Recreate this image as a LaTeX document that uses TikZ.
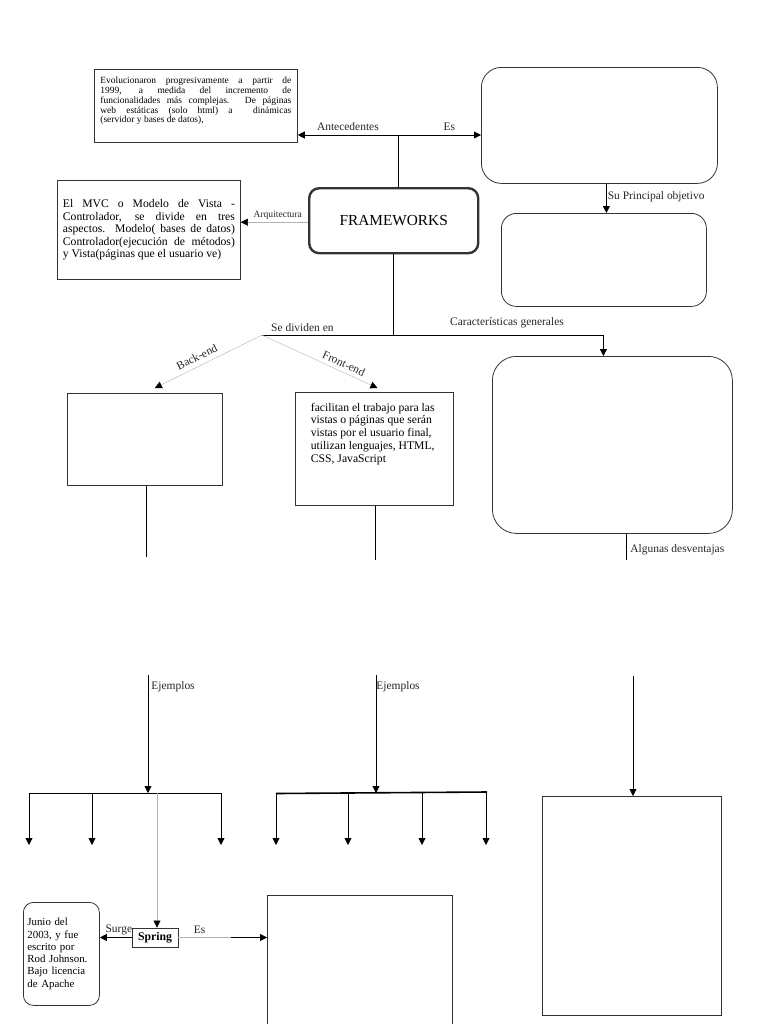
\documentclass[tikz,border=0pt]{standalone}
\usepackage{fontspec}
\setmainfont{Liberation Serif}
\usetikzlibrary{arrows.meta,positioning}

\tikzset{
  caja/.style={draw=black!80, line width=0.8bp, inner sep=0pt, anchor=north west},
  redonda/.style={caja, rounded corners=#1},
  etiqueta/.style={font=\fontsize{11.5}{13}\selectfont, inner sep=0pt, text=black!85},
  flecha/.style={line width=0.8bp, -{Triangle[length=7bp,width=7bp]}},
  gris/.style={line width=0.4bp, draw=black!30},
  flechagris/.style={gris, -{Triangle[length=7bp,width=7bp,color=black]}},
}

\begin{document}
\begin{tikzpicture}[x=1bp,y=-1bp]
  \useasboundingbox (0,0) rectangle (768,1024);

  % cajas de arriba
  \node[caja, minimum width=203bp, minimum height=73bp, text width=191bp,
    align=justify, font={\fontsize{9.5}{9.8}\selectfont\lineskiplimit=-20pt\relax}] (antecedentes) at (94,69)
    {Evolucionaron progresivamente a partir de\linebreak 1999, a medida del incremento de\linebreak
     funcionalidades más complejas. De páginas\linebreak web estáticas (solo html) a \ dinámicas\linebreak
     (servidor y bases de datos),\\[2bp]};
  \node[redonda=20bp, minimum width=236bp, minimum height=116bp] (objetivo) at (481,67) {};
  \node[redonda=15bp, minimum width=205bp, minimum height=93bp] (principal) at (501,213) {};
  \node[caja, line width=2.4bp, rounded corners=10bp, minimum width=169bp, minimum height=65bp,
    font=\fontsize{15.4}{17}\selectfont] (frameworks) at (308,187) {FRAMEWORKS};
  \node[caja, minimum width=183bp, minimum height=99bp, text width=172bp,
    align=justify, font=\fontsize{11.7}{12.4}\selectfont] (mvc) at (57,180)
    {El MVC o Modelo de Vista -\linebreak Controlador, se divide en tres\linebreak
     aspectos. Modelo( bases de datos)\linebreak Controlador(ejecución de métodos)\linebreak
     y Vista(páginas que el usuario ve)};

  % conexiones de arriba
  \coordinate (nudo) at (398,135);
  \draw[line width=0.8bp] (nudo |- frameworks.north) -- (nudo);
  \draw[flecha] (nudo) -- (nudo -| antecedentes.east)
    node[etiqueta, pos=0.5, above=4bp] {Antecedentes};
  \draw[flecha] (nudo) -- (nudo -| objetivo.west)
    node[etiqueta, pos=0.62, above=4bp] {Es};
  \draw[flecha] ([xshift=7bp]objetivo.south) -- ([xshift=2.5bp]principal.north)
    node[etiqueta, pos=0.45, right=1bp] {Su Principal objetivo};
  \draw[flechagris] ([yshift=-1.5bp]frameworks.west) -- ([yshift=-1.5bp]frameworks.west -| mvc.east)
    node[etiqueta, font=\fontsize{9.6}{11}\selectfont, pos=0.45, above=2bp] {Arquitectura};

  % division
  \node[caja, minimum width=155bp, minimum height=92bp] (backend) at (67,393) {};
  \node[caja, minimum width=158bp, minimum height=113bp] (frontend) at (295,392)
    {\hspace{13bp}\parbox[t][100bp][t]{140bp}{\raggedright\fontsize{11.7}{12.8}\selectfont
     \vspace{4bp}facilitan el trabajo para las\\ vistas o páginas que serán\\ vistas por el usuario final,\\
     utilizan lenguajes, HTML,\\ CSS, JavaScript}};
  \node[redonda=24bp, minimum width=240bp, minimum height=177bp] (caracteristicas) at (492,356) {};

  \coordinate (division) at (262,335);
  \draw[line width=0.8bp] (frameworks.south) -- (frameworks.south |- division);
  \draw[flecha] (division) -| ([xshift=-9bp]caracteristicas.north);
  \node[etiqueta, anchor=south west] (sedividen) at (271,332) {Se dividen en};
  \node[etiqueta] (generales) at (507,323) {Características generales};
  \draw[flechagris] (division) -- ([xshift=10bp,yshift=5bp]backend.north)
    node[etiqueta, pos=0.57, above=5bp, sloped] {Back-end};
  \draw[flechagris] (division) -- ([xshift=3bp,yshift=4bp]frontend.north)
    node[etiqueta, pos=0.68, above=4bp, sloped] {Front-end};

  \coordinate (corteA) at (146,557);
  \coordinate (corteB) at (375,560);
  \coordinate (corteC) at (626,560);
  \draw[line width=0.8bp] (backend.south -| corteA) -- (corteA);
  \draw[line width=0.8bp] (frontend.south -| corteB) -- (corteB);
  \draw[line width=0.8bp] (caracteristicas.south -| corteC) -- (corteC)
    node[etiqueta, pos=0.6, right=4bp] {Algunas desventajas};

  % ejemplos
  \coordinate (ejA) at (148,675);
  \coordinate (busA) at (148,793);
  \coordinate (ejB) at (376,675);
  \coordinate (busB) at (376,793);
  \coordinate (ejC) at (633,676);
  \draw[flecha] (ejA) -- (busA) node[etiqueta, pos=0.1, right=3bp] {Ejemplos};
  \draw[flecha] (ejB) -- (busB) node[etiqueta, pos=0.1, right=0bp] {Ejemplos};
  \draw[line width=1bp] (29,793) -- (221,793);
  \draw[line width=1.6bp] (276,793.5) -- (487,792);
  \foreach \x [count=\i] in {29,92,221} {
    \coordinate (hojaA\i) at (\x,845);
    \draw[flecha] (hojaA\i |- busA) -- (hojaA\i);
  }
  \foreach \x [count=\i] in {276,348,422,486} {
    \coordinate (hojaB\i) at (\x,845);
    \draw[flecha] (hojaB\i |- busB) -- (hojaB\i);
  }
  \node[caja, minimum width=179bp, minimum height=219bp] (desventajas) at (542,796) {};
  \draw[flecha] (ejC) -- (desventajas.north -| ejC);

  % spring
  \node[caja, anchor=center, minimum width=46bp, minimum height=19bp,
    font=\bfseries\fontsize{11.8}{13}\selectfont] (spring) at (155,937.5) {Spring};
  \node[redonda=10bp, minimum width=76bp, minimum height=103bp, text width=68bp, align=left,
    font=\fontsize{10.9}{12.3}\selectfont] (junio) at (23,902)
    {Junio del\\ 2003, y fue\\ escrito por\\ Rod Johnson.\\ Bajo licencia\\ de Apache};
  \node[caja, minimum width=185bp, minimum height=140bp] (plataforma) at (267,895) {};
  \draw[flechagris] ([xshift=2bp]spring.north |- busA) -- ([xshift=2bp]spring.north);
  \draw[flecha] (spring.west) -- (spring.west -| junio.east)
    node[etiqueta, pos=0.4, above=2bp] {Surge};
  \draw[gris] (spring.east) -- (spring.east -| plataforma.west)
    node[etiqueta, pos=0.24, above=4bp] {Es};
  \draw[flecha] ([xshift=-36bp]spring.east -| plataforma.west) -- (spring.east -| plataforma.west);
\end{tikzpicture}
\end{document}
